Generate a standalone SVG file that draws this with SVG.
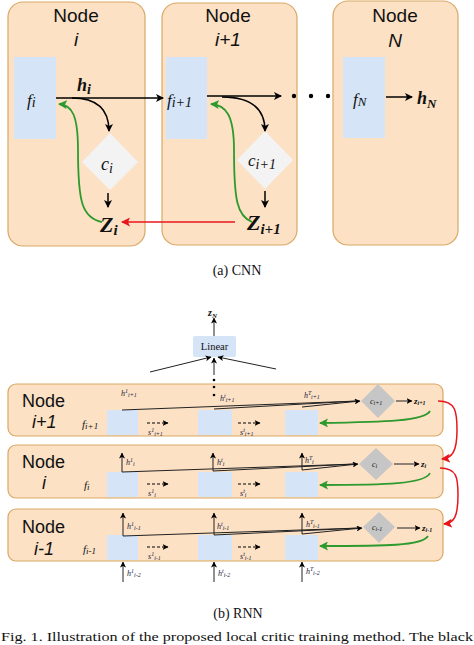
<svg xmlns="http://www.w3.org/2000/svg" width="474" height="645" viewBox="0 0 474 645">
<defs>
<marker id="ab" markerWidth="8" markerHeight="8" refX="7" refY="4" orient="auto" markerUnits="userSpaceOnUse"><path d="M0,0 L8,4 L0,8 L2,4 Z" fill="#000"/></marker>
<marker id="abs" markerWidth="6" markerHeight="6" refX="5.5" refY="3" orient="auto" markerUnits="userSpaceOnUse"><path d="M0,0 L6,3 L0,6 L1.5,3 Z" fill="#000"/></marker>
<marker id="ag" markerWidth="9" markerHeight="9" refX="8" refY="4.5" orient="auto" markerUnits="userSpaceOnUse"><path d="M0,0 L9,4.5 L0,9 L2,4.5 Z" fill="#2e9a2e"/></marker>
<marker id="ar" markerWidth="9" markerHeight="9" refX="8" refY="4.5" orient="auto" markerUnits="userSpaceOnUse"><path d="M0,0 L9,4.5 L0,9 L2,4.5 Z" fill="#e8161b"/></marker>
</defs>
<style>
.box{fill:#fce1c5;stroke:#d9a865;stroke-width:1.2}
.blue{fill:#d5e4f6}
.dia{fill:#f3f3f3}
.dia2{fill:#c6c6c6}
.sans{font-family:"Liberation Sans",Arial,sans-serif;fill:#111}
.ser{font-family:"Liberation Serif","Times New Roman",serif;fill:#111}
.it{font-style:italic}
.bd{font-weight:bold}
.k{fill:none;stroke:#000;stroke-width:1.5}
.kt{fill:none;stroke:#222;stroke-width:1}
.dash{fill:none;stroke:#000;stroke-width:1.2;stroke-dasharray:3,2}
.g{fill:none;stroke:#2e9a2e;stroke-width:1.8}
.r{fill:none;stroke:#e8161b;stroke-width:1.5}
.lab{font-family:"Liberation Serif","Times New Roman",serif;font-style:italic;font-size:8px;fill:#1a1a40}
</style>
<g id="cnn-node-i">
<rect class="box" x="8" y="2" width="137" height="244" rx="15"/>
<text class="sans" x="76" y="22" font-size="19" text-anchor="middle">Node</text>
<text class="sans it" x="76" y="46" font-size="19" text-anchor="middle">i</text>
<rect class="blue" x="14" y="57" width="42" height="82"/>
<text class="ser it" x="27" y="106" font-size="17">f<tspan font-size="14" dy="1">i</tspan></text>
<text class="ser it bd" x="77" y="91" font-size="18">h<tspan font-size="14" dy="3">i</tspan></text>
<path class="dia" d="M110,133 L138,162 L110,190 L82,162 Z"/>
<text class="ser it" x="101" y="170" font-size="18">c<tspan font-size="14" dy="3">i</tspan></text>
<text class="ser it bd" x="100" y="232" font-size="22">Z<tspan font-size="15" dy="3">i</tspan></text>
</g>
<g id="cnn-node-i1">
<rect class="box" x="162" y="3" width="135" height="242" rx="15"/>
<text class="sans" x="228" y="22" font-size="19" text-anchor="middle">Node</text>
<text class="sans it" x="228" y="46" font-size="19" text-anchor="middle">i+1</text>
<rect class="blue" x="166" y="57" width="41" height="82"/>
<text class="ser it" x="167" y="106" font-size="17">f<tspan font-size="14" dy="1">i+1</tspan></text>
<path class="dia" d="M265,131 L293,160 L265,189 L237,160 Z"/>
<text class="ser it" x="248" y="166" font-size="17">c<tspan font-size="14" dy="3">i+1</tspan></text>
<text class="ser it bd" x="247" y="230" font-size="22">Z<tspan font-size="15" dy="4">i+1</tspan></text>
</g>
<g id="cnn-node-N">
<rect class="box" x="333" y="1" width="125" height="244" rx="15"/>
<text class="sans" x="395" y="22" font-size="19" text-anchor="middle">Node</text>
<text class="sans it" x="395" y="47" font-size="19" text-anchor="middle">N</text>
<rect class="blue" x="343" y="57" width="42" height="81"/>
<text class="ser it" x="353" y="105" font-size="17">f<tspan font-size="13" dy="1">N</tspan></text>
<text class="ser it bd" x="417" y="104" font-size="18">h<tspan font-size="13" dy="4">N</tspan></text>
</g>
<text class="ser" x="237" y="275" font-size="14" text-anchor="middle">(a) CNN</text>
<g id="rnn-linear">
<rect class="blue" x="193" y="336" width="43" height="21" rx="2"/>
<text class="ser" x="214.5" y="350" font-size="10.5" text-anchor="middle">Linear</text>
<text class="ser it bd" x="208" y="316" font-size="10">z<tspan font-size="7" dy="2">N</tspan></text>
</g>
<g id="rnn-node-i1">
<rect class="box" x="8" y="384" width="435" height="52" rx="8"/>
<text class="sans" x="22" y="407" font-size="18">Node</text>
<text class="sans it" x="32" y="428" font-size="18">i+1</text>
<text class="ser it" x="82" y="428" font-size="11">f<tspan font-size="9" dy="1">i+1</tspan></text>
<rect class="blue" x="107" y="410" width="31" height="25"/>
<rect class="blue" x="198" y="410" width="34" height="25"/>
<rect class="blue" x="285" y="410" width="33" height="25"/>
<path class="dia2" d="M378,384 L395,401 L378,418 L361,401 Z"/>
<text class="ser it" x="370" y="404" font-size="8">c<tspan font-size="6" dy="1">i+1</tspan></text>
<text class="ser it bd" x="414" y="404" font-size="9">z<tspan font-size="6" dy="1">i+1</tspan></text>
</g>
<g id="rnn-node-i">
<rect class="box" x="8" y="445" width="435" height="53" rx="8"/>
<text class="sans" x="22" y="468" font-size="18">Node</text>
<text class="sans it" x="42" y="489" font-size="18">i</text>
<text class="ser it" x="84" y="489" font-size="11">f<tspan font-size="9" dy="1">i</tspan></text>
<rect class="blue" x="107" y="472" width="31" height="25"/>
<rect class="blue" x="198" y="472" width="34" height="25"/>
<rect class="blue" x="285" y="472" width="33" height="25"/>
<path class="dia2" d="M376,448 L393,464 L376,480 L359,464 Z"/>
<text class="ser it" x="372" y="467" font-size="8">c<tspan font-size="6" dy="1">i</tspan></text>
<text class="ser it bd" x="421" y="467" font-size="9">z<tspan font-size="6" dy="1">i</tspan></text>
</g>
<g id="rnn-node-i-1">
<rect class="box" x="8" y="509" width="435" height="52" rx="8"/>
<text class="sans" x="22" y="533" font-size="18">Node</text>
<text class="sans it" x="34" y="555" font-size="18">i-1</text>
<text class="ser it" x="83" y="553" font-size="11">f<tspan font-size="9" dy="1">i-1</tspan></text>
<rect class="blue" x="107" y="535" width="31" height="25"/>
<rect class="blue" x="198" y="535" width="34" height="25"/>
<rect class="blue" x="285" y="535" width="33" height="25"/>
<path class="dia2" d="M379,512 L395,527 L379,543 L363,527 Z"/>
<text class="ser it" x="372" y="530" font-size="8">c<tspan font-size="6" dy="1">i-1</tspan></text>
<text class="ser it bd" x="422" y="531" font-size="9">z<tspan font-size="6" dy="1">i-1</tspan></text>
</g>
<g id="rnn-labels" class="lab">
<text x="121" y="396">h<tspan font-size="6" dy="-3">1</tspan><tspan font-size="6" dy="4">i+1</tspan></text>
<text x="220" y="401">h<tspan font-size="6" dy="-3">t</tspan><tspan font-size="6" dy="4">i+1</tspan></text>
<text x="304" y="398">h<tspan font-size="6" dy="-3">T</tspan><tspan font-size="6" dy="4">i+1</tspan></text>
<text x="148" y="435">s<tspan font-size="6" dy="-3">1</tspan><tspan font-size="6" dy="4">i+1</tspan></text>
<text x="240" y="435">s<tspan font-size="6" dy="-3">t</tspan><tspan font-size="6" dy="4">i+1</tspan></text>
<text x="126" y="465">h<tspan font-size="6" dy="-3">1</tspan><tspan font-size="6" dy="4">i</tspan></text>
<text x="217" y="465">h<tspan font-size="6" dy="-3">t</tspan><tspan font-size="6" dy="4">i</tspan></text>
<text x="305" y="463">h<tspan font-size="6" dy="-3">T</tspan><tspan font-size="6" dy="4">i</tspan></text>
<text x="148" y="496">s<tspan font-size="6" dy="-3">1</tspan><tspan font-size="6" dy="4">i</tspan></text>
<text x="240" y="496">s<tspan font-size="6" dy="-3">t</tspan><tspan font-size="6" dy="4">i</tspan></text>
<text x="127" y="529">h<tspan font-size="6" dy="-3">1</tspan><tspan font-size="6" dy="4">i-1</tspan></text>
<text x="217" y="529">h<tspan font-size="6" dy="-3">t</tspan><tspan font-size="6" dy="4">i-1</tspan></text>
<text x="306" y="527">h<tspan font-size="6" dy="-3">T</tspan><tspan font-size="6" dy="4">i-1</tspan></text>
<text x="148" y="559">s<tspan font-size="6" dy="-3">1</tspan><tspan font-size="6" dy="4">i-1</tspan></text>
<text x="240" y="559">s<tspan font-size="6" dy="-3">t</tspan><tspan font-size="6" dy="4">i-1</tspan></text>
<text x="127" y="576">h<tspan font-size="6" dy="-3">1</tspan><tspan font-size="6" dy="4">i-2</tspan></text>
<text x="218" y="576">h<tspan font-size="6" dy="-3">t</tspan><tspan font-size="6" dy="4">i-2</tspan></text>
<text x="306" y="574">h<tspan font-size="6" dy="-3">T</tspan><tspan font-size="6" dy="4">i-2</tspan></text>
</g>
<g id="connectors">
<path class="k" d="M56,98 H163" marker-end="url(#ab)"/>
<path class="k" d="M72,98 C96,98 109,108 109,131" marker-end="url(#ab)"/>
<path class="k" d="M108,193 V207" marker-end="url(#ab)"/>
<path class="g" d="M102,222 C82,218 78,202 78,150 C78,115 72,105 59,104" marker-end="url(#ag)"/>
<path class="r" d="M235,222 H122" marker-end="url(#ar)"/>
<path class="k" d="M207,96 H281" marker-end="url(#ab)"/>
<path class="k" d="M222,97 C250,97 265,108 265,131" marker-end="url(#ab)"/>
<path class="k" d="M265,191 V207" marker-end="url(#ab)"/>
<path class="g" d="M252,222 C237,216 234,200 234,150 C234,115 226,105 211,104" marker-end="url(#ag)"/>
<circle cx="294" cy="96" r="2.2"/>
<circle cx="311" cy="96" r="2.2"/>
<circle cx="328" cy="96" r="2.2"/>
<path class="k" d="M386,97 H412" marker-end="url(#ab)"/>
<path class="kt" d="M214,336 V318" marker-end="url(#abs)"/>
<path class="kt" d="M150,372 L211,357" marker-end="url(#abs)"/>
<path class="kt" d="M276,369 L218,357" marker-end="url(#abs)"/>
<path class="kt" d="M214,375 V358" marker-end="url(#abs)"/>
<circle cx="214" cy="380" r="1.3"/>
<circle cx="214" cy="387" r="1.3"/>
<circle cx="214" cy="395" r="1.3"/>
<path class="kt" d="M122,410 L358,401"/>
<path class="kt" d="M214,409 L358,401"/>
<path class="kt" d="M302,407 L360,401" marker-end="url(#abs)"/>
<path class="dash" d="M147,423 H168" marker-end="url(#abs)"/>
<path class="dash" d="M238,423 H260" marker-end="url(#abs)"/>
<path class="kt" d="M396,401 H412" marker-end="url(#abs)"/>
<path class="g" d="M430,411 C425,421 385,422 320,423" marker-end="url(#ag)"/>
<path class="r" d="M438,401 C456,401 457,412 457,430 C457,452 452,458 442,459" marker-end="url(#ar)"/>
<path class="kt" d="M122,472 L356,464"/>
<path class="kt" d="M213,471 L356,464"/>
<path class="kt" d="M302,470 L358,464" marker-end="url(#abs)"/>
<path class="kt" d="M122,472 V453" marker-end="url(#abs)"/>
<path class="kt" d="M213,471 V453" marker-end="url(#abs)"/>
<path class="kt" d="M302,470 V453" marker-end="url(#abs)"/>
<path class="dash" d="M147,484 H168" marker-end="url(#abs)"/>
<path class="dash" d="M238,484 H260" marker-end="url(#abs)"/>
<path class="kt" d="M394,464 H419" marker-end="url(#abs)"/>
<path class="g" d="M430,473 C425,484 385,485 320,485" marker-end="url(#ag)"/>
<path class="r" d="M440,468 C457,468 458,478 458,495 C458,517 454,523 444,524" marker-end="url(#ar)"/>
<path class="kt" d="M123,536 L360,528"/>
<path class="kt" d="M214,535 L360,528"/>
<path class="kt" d="M302,534 L362,528" marker-end="url(#abs)"/>
<path class="kt" d="M123,536 V513" marker-end="url(#abs)"/>
<path class="kt" d="M214,535 V513" marker-end="url(#abs)"/>
<path class="kt" d="M302,534 V513" marker-end="url(#abs)"/>
<path class="dash" d="M147,547 H168" marker-end="url(#abs)"/>
<path class="dash" d="M238,547 H260" marker-end="url(#abs)"/>
<path class="kt" d="M397,528 H420" marker-end="url(#abs)"/>
<path class="g" d="M428,536 C422,546 385,546 320,546" marker-end="url(#ag)"/>
<path class="kt" d="M123,582 V562" marker-end="url(#abs)"/>
<path class="kt" d="M214,582 V562" marker-end="url(#abs)"/>
<path class="kt" d="M302,582 V562" marker-end="url(#abs)"/>
</g>
<text class="ser" x="238" y="618" font-size="14" text-anchor="middle">(b) RNN</text>
<text class="ser" x="1" y="641" font-size="13.5" textLength="472" lengthAdjust="spacingAndGlyphs">Fig. 1.  Illustration of the proposed local critic training method. The black</text>
</svg>
